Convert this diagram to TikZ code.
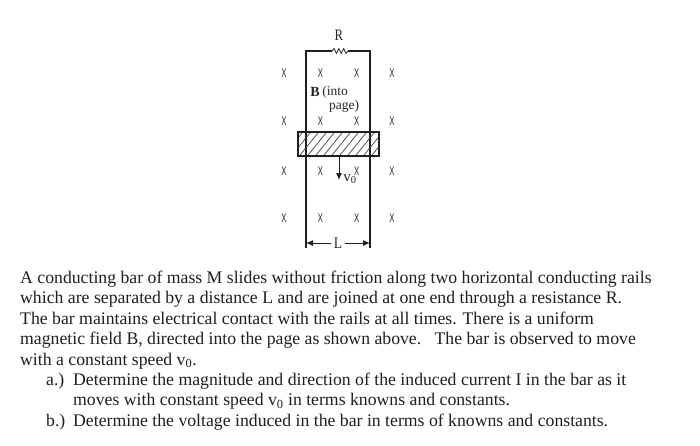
\documentclass[tikz,border=0pt]{standalone}
\usepackage{fontspec}
\setmainfont{Liberation Serif}
\newfontfamily\xfont{Liberation Sans}
\usetikzlibrary{arrows.meta}
\tikzset{
  line/.style={inner sep=0pt,anchor=base west,font=\fontsize{17.72}{19}\selectfont,text=black!88},
  xmark/.style={inner sep=0pt,font=\xfont\fontsize{12.5}{12.5}\selectfont,text=black!85},
  lab/.style={inner sep=0pt,font=\fontsize{13.5}{13.5}\selectfont,text=black!85},
  biglab/.style={inner sep=0pt,font=\fontsize{16}{16}\selectfont,text=black!85},
  wire/.style={draw=black!88,line width=1.15pt},
  dimtip/.style={-{Latex[length=7pt,width=6pt]},draw=black!88,line width=1pt}
}
\begin{document}
\begin{tikzpicture}[x=1pt,y=-1pt]
\useasboundingbox (0,0) rectangle (700,445);
% wires
\coordinate (tl) at (306,51);
\coordinate (tr) at (370,51);
\coordinate (bl) at (306,248);
\coordinate (br) at (370,248);
\coordinate (rl) at (332,51);
\coordinate (rr) at (348,51);
\draw[wire] (rl) -- (tl) -- (bl);
\draw[wire] (rr) -- (tr) -- (br);
\draw[black!85,line width=0.8pt,line join=round] (rl) -- ++(2,-2.5) -- ++(2.4,5) -- ++(2.4,-5) -- ++(2.4,5) -- ++(2.4,-5) -- ++(2.4,5) -- (rr);
\node[biglab] (R) at (339,35) {\scalebox{.8}[1]{R}};
% crosses
\foreach \c/\x in {a/284,b/320.5,c/356.7,d/392}
  \foreach \r/\y in {1/73,2/121,3/171,4/218}
    \node[xmark] (x\c\r) at (\x,\y) {\scalebox{.62}[1]{X}};
% field label
\node[lab,font=\bfseries\fontsize{14}{14}\selectfont] (B) at (315,92) {B};
\node[lab] (into) at (335,92) {(into};
\node[lab] (page) at (344,106) {page)};
% bar
\coordinate (barA) at (298,132);
\coordinate (barB) at (379,156);
\begin{scope}
\clip (barA) rectangle (barB);
\foreach \i in {0,8,...,120}
  \draw[black!72,line width=0.7pt] (280+\i,160) -- ++(26,-32);
\end{scope}
\draw[wire,line width=1.4pt] (barA) rectangle (barB);
% velocity
\coordinate (vs) at (339,156);
\coordinate (ve) at (339,180);
\draw[dimtip] (vs) -- (ve);
\node[lab,font=\fontsize{15}{15}\selectfont] (v0) at (350,179.5) {v\textsubscript{0}};
% L dimension
\node[biglab] (L) at (338,243) {\scalebox{.85}[1]{L}};
\coordinate (ll) at (306,243);
\coordinate (lr) at (370,243);
\draw[dimtip] (L.west) ++(-3,0) -- (ll);
\draw[dimtip] (L.east) ++(3,0) -- (lr);
% text
\node[line] (t1) at (20,283) {A conducting bar of mass M slides without friction along two horizontal conducting rails};
\node[line] (t2) at (20,303.5) {which are separated by a distance L and are joined at one end through a resistance R.};
\node[line] (t3) at (20,324) {The bar maintains electrical contact with the rails at all times. There is a uniform};
\node[line] (t4) at (20,344.5) {magnetic field B, directed into the page as shown above.\hspace{0.75em}The bar is observed to move};
\node[line] (t5) at (20,365) {with a constant speed v\textsubscript{0}.};
\node[line] (t6) at (46,385.5) {a.)};
\node[line] (t6b) at (73,385.5) {Determine the magnitude and direction of the induced current I in the bar as it};
\node[line] (t7) at (73,405.5) {moves with constant speed v\textsubscript{0} in terms knowns and constants.};
\node[line] (t8) at (46,426.5) {b.)};
\node[line] (t8b) at (73,426.5) {Determine the voltage induced in the bar in terms of knowns and constants.};
\end{tikzpicture}
\end{document}
